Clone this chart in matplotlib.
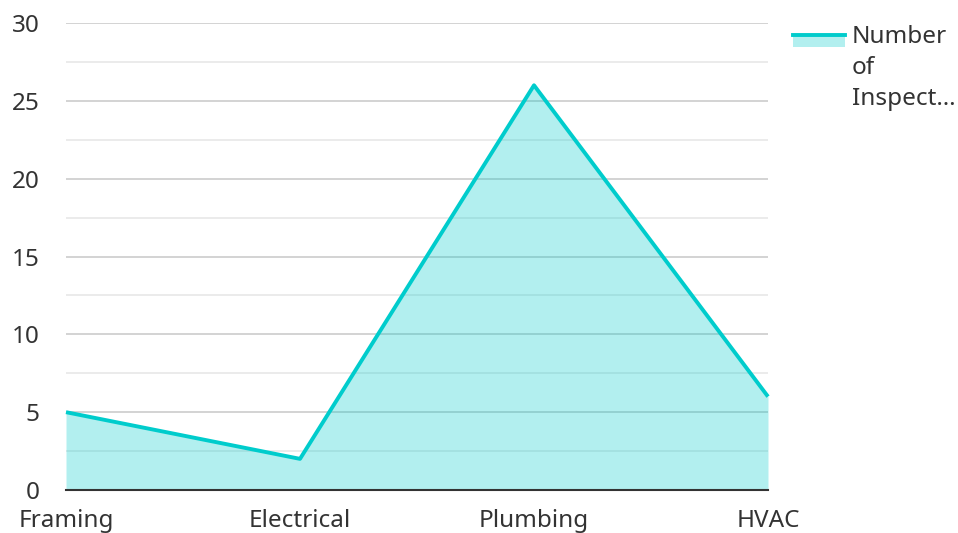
import matplotlib.pyplot as plt
from matplotlib.patches import Rectangle
from matplotlib.lines import Line2D
import numpy as np

categories = ['Framing', 'Electrical', 'Plumbing', 'HVAC']
inspections = [5, 2, 26, 6]
series_name = 'Number\nof\nInspect…'

plt.rcParams['font.family'] = ['Noto Sans', 'DejaVu Sans']
color = '#00CCCC'

W, H = 958, 533
fig = plt.figure(figsize=(W / 100, H / 100), dpi=100)
ax = fig.add_axes([66 / W, 1 - 490 / H, (768 - 66) / W, (490 - 23) / H])

x = np.arange(len(categories))
ax.fill_between(x, inspections, 0, color=color, alpha=0.3, linewidth=0, zorder=2)
ax.plot(x, inspections, color=color, linewidth=2.8, zorder=3, clip_on=False,
        solid_capstyle='butt')

ax.set_xlim(0, len(categories) - 1)
ax.set_ylim(0, 30)
ax.set_yticks(np.arange(0, 31, 5))
ax.set_yticks(np.arange(2.5, 30, 5), minor=True)
ax.set_xticks(x)
ax.set_xticklabels(categories)
ax.grid(axis='y', which='major', color='#cccccc', linewidth=1.2, zorder=1)
ax.grid(axis='y', which='minor', color='#e8e8e8', linewidth=1.2, zorder=1)
for s in ['left', 'right', 'top']:
    ax.spines[s].set_visible(False)
ax.spines['bottom'].set_color('#333333')
ax.spines['bottom'].set_linewidth(1.5)
ax.spines['bottom'].set_zorder(4)
ax.tick_params(axis='both', which='both', length=0, labelsize=17.5, colors='#333333')
ax.tick_params(axis='y', pad=19)
ax.tick_params(axis='x', pad=14)

# legend
fig.patches.append(Rectangle((793 / W, 1 - 47 / H), 52 / W, 13 / H,
                             transform=fig.transFigure, color=color, alpha=0.3, linewidth=0))
fig.lines.append(Line2D([793 / W, 845 / W], [1 - 35 / H, 1 - 35 / H],
                        transform=fig.transFigure, color=color, linewidth=2.8))
fig.text(852 / W, 1 - 25 / H, series_name, fontsize=17.5, color='#333333',
         va='top', ha='left', linespacing=1.4)

fig.savefig('out.png', dpi=100)
